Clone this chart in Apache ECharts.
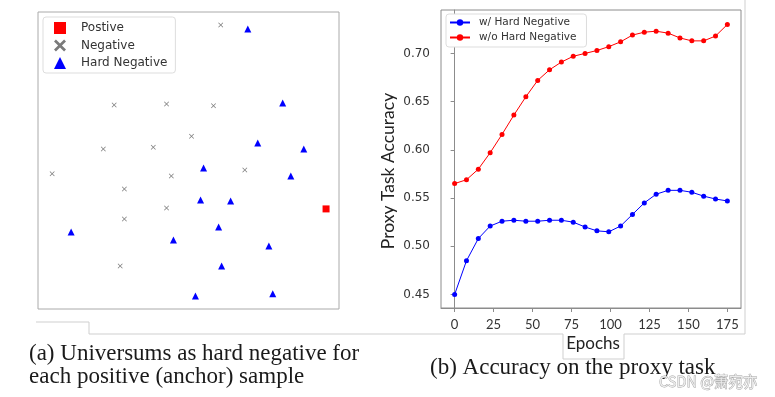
<!DOCTYPE html>
<html>

<head>
    <meta charset="utf-8">
    <script src="https://cdn.jsdelivr.net/npm/echarts@6/dist/echarts.min.js"></script>
    <style>
        html, body { margin: 0; padding: 0; background: #fff; }
    </style>
</head>

<body>
    <div id="main" style="width:775px;height:397px;"></div>

    <script>
        // (a) embedding sketch, coordinates in an arbitrary 0..100 space
        var negX = [60.7, 25.3, 42.7, 58.3, 51.0, 21.7, 38.3, 4.7, 44.3, 68.7, 28.7, 42.7, 28.7, 27.3];
        var negY = [95.6, 68.7, 69.0, 68.4, 58.2, 53.9, 54.5, 45.5, 44.8, 46.8, 40.4, 34.0, 30.3, 14.5];
        var hardX = [69.7, 81.3, 73.0, 88.3, 55.0, 84.0, 54.0, 64.0, 11.0, 45.0, 60.0, 76.7, 61.0, 52.3, 78.0];
        var hardY = [94.3, 69.4, 55.9, 53.9, 47.5, 44.8, 36.7, 36.4, 25.9, 23.2, 27.6, 21.2, 14.5, 4.4, 5.1];
        var posX = [95.7];
        var posY = [33.7];

        // (b) proxy task accuracy
        var epochs = [0, 7.6, 15.2, 22.8, 30.4, 38.0, 45.7, 53.3, 60.9, 68.5, 76.1, 83.7,
            91.3, 98.9, 106.5, 114.1, 121.7, 129.3, 137.0, 144.6, 152.2, 159.8, 167.4, 175.0];
        var withHard = [0.450, 0.485, 0.508, 0.521, 0.526, 0.527, 0.526, 0.526, 0.527, 0.527, 0.525, 0.520,
            0.516, 0.515, 0.521, 0.533, 0.545, 0.554, 0.558, 0.558, 0.556, 0.552, 0.549, 0.547];
        var withoutHard = [0.565, 0.569, 0.580, 0.597, 0.616, 0.636, 0.655, 0.672, 0.683, 0.691, 0.697, 0.700,
            0.703, 0.707, 0.712, 0.719, 0.722, 0.723, 0.721, 0.716, 0.713, 0.713, 0.718, 0.730];
        var xTicks = [0, 25, 50, 75, 100, 125, 150, 175];
        var yTicks = [0.45, 0.50, 0.55, 0.60, 0.65, 0.70];

        function zip(a, b) {
            return a.map(function (v, i) { return [v, b[i]]; });
        }

        var crossPath = 'path://M0,1L1,0L5,4L9,0L10,1L6,5L10,9L9,10L5,6L1,10L0,9L4,5Z';
        var mpl = 'DejaVu Sans';
        var frameColor = '#cfcfcf';

        var myChart = echarts.init(document.getElementById('main'));
        var option = {
            animation: false,
            backgroundColor: '#fff',
            grid: [
                { left: 38, top: 12, width: 301, height: 297, show: true, borderColor: '#aaa', borderWidth: 1 },
                { left: 441, top: 10, width: 300, height: 298, show: true, borderColor: '#8c8c8c', borderWidth: 1 }
            ],
            xAxis: [
                { gridIndex: 0, type: 'value', min: 0, max: 100, show: false },
                {
                    gridIndex: 1, type: 'value', min: -8.75, max: 183.75,
                    splitLine: { show: false },
                    axisLine: { lineStyle: { color: '#8c8c8c' } },
                    axisTick: { customValues: xTicks, length: 4, lineStyle: { color: '#8c8c8c' } },
                    axisLabel: {
                        customValues: xTicks, margin: 10,
                        fontFamily: 'Lato', fontSize: 13, color: '#333'
                    }
                }
            ],
            yAxis: [
                { gridIndex: 0, type: 'value', min: 0, max: 100, show: false },
                {
                    gridIndex: 1, type: 'value', min: 0.436, max: 0.745,
                    splitLine: { show: false },
                    axisLine: { show: true, lineStyle: { color: '#8c8c8c' } },
                    axisTick: { show: true, customValues: yTicks, length: 4, lineStyle: { color: '#8c8c8c' } },
                    axisLabel: {
                        customValues: yTicks, margin: 11,
                        fontFamily: mpl, fontSize: 12, color: '#333',
                        formatter: function (v) { return v.toFixed(2); }
                    }
                }
            ],
            legend: [
                {
                    left: 43, top: 17, orient: 'vertical',
                    padding: [5, 8, 4, 11],
                    itemWidth: 12, itemHeight: 12, itemGap: 5.5,
                    backgroundColor: '#fff', borderColor: '#ddd', borderWidth: 1, borderRadius: 3,
                    textStyle: { fontFamily: mpl, fontSize: 12, color: '#333', padding: [0, 0, 0, 10] },
                    data: [
                        { name: 'Postive', icon: 'rect', itemStyle: { opacity: 1 } },
                        { name: 'Negative', icon: 'path://M0,1.6L1.6,0L5,3.4L8.4,0L10,1.6L6.6,5L10,8.4L8.4,10L5,6.6L1.6,10L0,8.4L3.4,5Z', itemStyle: { opacity: 1 } },
                        { name: 'Hard Negative', icon: 'triangle', itemStyle: { opacity: 1 } }
                    ]
                },
                {
                    left: 446, top: 14, orient: 'vertical',
                    padding: [3, 10, 4, 3],
                    itemWidth: 20, itemHeight: 8, itemGap: 4,
                    backgroundColor: '#fff', borderColor: '#ddd', borderWidth: 1, borderRadius: 3,
                    textStyle: { fontFamily: mpl, fontSize: 10.5, color: '#333', padding: [0, 0, 0, 4] },
                    data: ['w/ Hard Negative', 'w/o Hard Negative']
                }
            ],
            series: [
                {
                    name: 'Postive', type: 'scatter', xAxisIndex: 0, yAxisIndex: 0,
                    symbol: 'rect', symbolSize: 7, itemStyle: { color: '#ff0000', opacity: 1 },
                    data: zip(posX, posY)
                },
                {
                    name: 'Negative', type: 'scatter', xAxisIndex: 0, yAxisIndex: 0,
                    symbol: crossPath, symbolSize: 5, itemStyle: { color: '#7a7a7a', opacity: 1 },
                    data: zip(negX, negY)
                },
                {
                    name: 'Hard Negative', type: 'scatter', xAxisIndex: 0, yAxisIndex: 0,
                    symbol: 'triangle', symbolSize: 7, itemStyle: { color: '#0000ff', opacity: 1 },
                    data: zip(hardX, hardY)
                },
                {
                    name: 'w/ Hard Negative', type: 'line', xAxisIndex: 1, yAxisIndex: 1,
                    symbol: 'circle', symbolSize: 5, showAllSymbol: true,
                    lineStyle: { width: 1, color: '#0000ff' }, itemStyle: { color: '#0000ff' },
                    data: zip(epochs, withHard)
                },
                {
                    name: 'w/o Hard Negative', type: 'line', xAxisIndex: 1, yAxisIndex: 1,
                    symbol: 'circle', symbolSize: 5, showAllSymbol: true,
                    lineStyle: { width: 1, color: '#ff0000' }, itemStyle: { color: '#ff0000' },
                    data: zip(epochs, withoutHard)
                }
            ],
            graphic: [
                // leftover frame lines from the pasted figure
                {
                    type: 'polyline', silent: true,
                    shape: { points: [[36, 322], [89, 322], [89, 334], [563, 334], [563, 359], [624, 359], [624, 334], [745, 334], [745, 0]] },
                    style: { fill: null, stroke: frameColor, lineWidth: 1 }
                },
                {
                    type: 'text', x: 593, y: 344,
                    style: { text: 'Epochs', fontFamily: 'Lato', fontSize: 17, fill: '#222', align: 'center', verticalAlign: 'middle' }
                },
                {
                    type: 'text', x: 388, y: 171, rotation: Math.PI / 2,
                    style: { text: 'Proxy Task Accuracy', fontFamily: 'Lato', fontSize: 17.5, fill: '#222', align: 'center', verticalAlign: 'middle' }
                },
                {
                    type: 'text', x: 29, y: 354,
                    style: { text: '(a) Universums as hard negative for', fontFamily: 'Liberation Serif', fontSize: 23, fill: '#1a1a1a', verticalAlign: 'middle' }
                },
                {
                    type: 'text', x: 29, y: 377,
                    style: { text: 'each positive (anchor) sample', fontFamily: 'Liberation Serif', fontSize: 23, fill: '#1a1a1a', verticalAlign: 'middle' }
                },
                {
                    type: 'text', x: 430, y: 368,
                    style: { text: '(b) Accuracy on the proxy task', fontFamily: 'Liberation Serif', fontSize: 23, fill: '#1a1a1a', verticalAlign: 'middle' }
                },
                {
                    type: 'text', x: 659, y: 381,
                    style: {
                        text: 'CSDN @萧宛亦', fontFamily: 'Noto Sans CJK SC', fontSize: 14.5,
                        fill: '#ececec', stroke: '#a0a0a0', lineWidth: 0.8, verticalAlign: 'middle'
                    }
                }
            ]
        };

        myChart.setOption(option);
    </script>
</body>

</html>
